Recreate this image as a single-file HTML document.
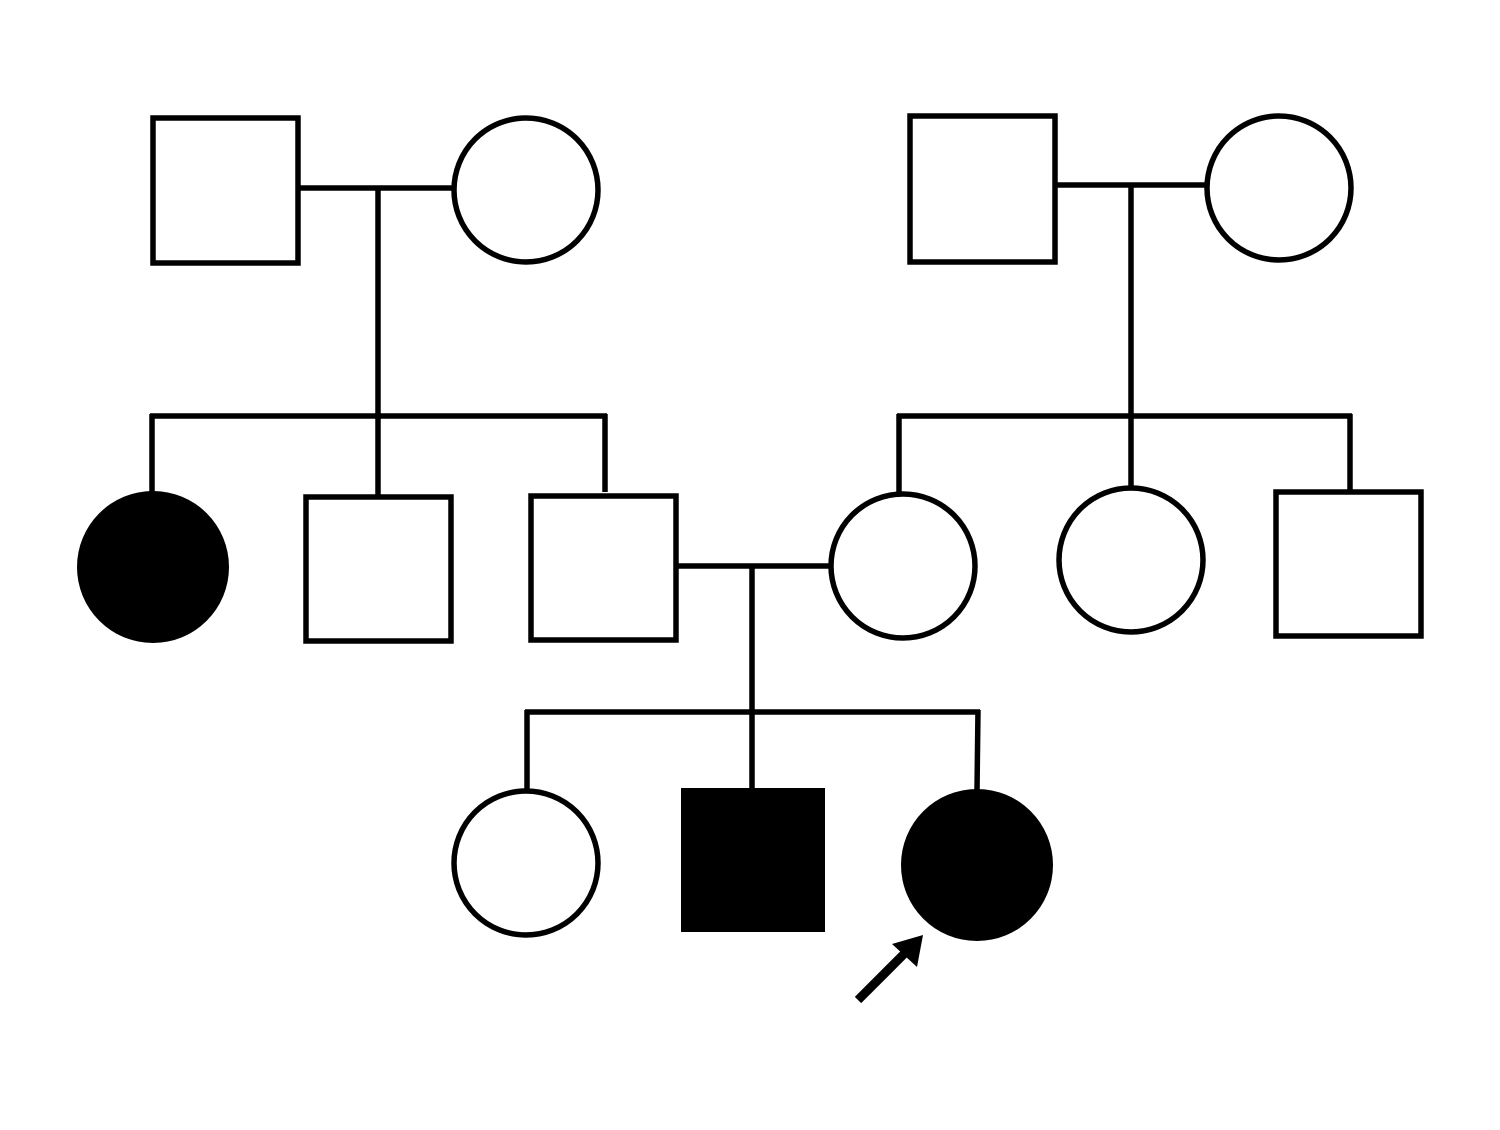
<!DOCTYPE html>
<html><head><style>body{margin:0;background:#fff}</style></head><body>
<svg width="1500" height="1125" viewBox="0 0 1500 1125" xmlns="http://www.w3.org/2000/svg">
<g stroke="#000" stroke-width="5.5" fill="none">
<rect x="153" y="118" width="145" height="145" fill="#fff"/>
<circle cx="526" cy="190" r="72" fill="#fff"/>
<line x1="298" y1="188" x2="452" y2="188"/>
<line x1="378" y1="188" x2="378" y2="416"/>
<rect x="910" y="116" width="145" height="146" fill="#fff"/>
<circle cx="1279" cy="188" r="72" fill="#fff"/>
<line x1="1055" y1="185" x2="1205" y2="185"/>
<line x1="1131" y1="185" x2="1131" y2="416"/>
<line x1="150" y1="416" x2="607" y2="416"/>
<line x1="152" y1="414" x2="152" y2="492"/>
<line x1="378" y1="416" x2="378" y2="497"/>
<line x1="605" y1="414" x2="605" y2="492"/>
<circle cx="153" cy="567" r="76" fill="#000" stroke="none"/>
<rect x="306" y="497" width="145" height="144" fill="#fff"/>
<rect x="531" y="496" width="145" height="144" fill="#fff"/>
<line x1="897" y1="416" x2="1352" y2="416"/>
<line x1="899" y1="414" x2="899" y2="492"/>
<line x1="1131" y1="416" x2="1131" y2="488"/>
<line x1="1350" y1="414" x2="1350" y2="492"/>
<circle cx="903" cy="566" r="72" fill="#fff"/>
<circle cx="1131" cy="560" r="72" fill="#fff"/>
<rect x="1276" y="492" width="145" height="144" fill="#fff"/>
<line x1="676" y1="566" x2="830" y2="566"/>
<line x1="752" y1="566" x2="752" y2="712"/>
<line x1="525" y1="712" x2="980" y2="712"/>
<line x1="527" y1="710" x2="527" y2="790"/>
<line x1="752" y1="712" x2="752" y2="789"/>
<line x1="978" y1="710" x2="977" y2="790"/>
<circle cx="526" cy="863" r="72" fill="#fff"/>
<rect x="681" y="788" width="144" height="144" fill="#000" stroke="none"/>
<circle cx="977" cy="865" r="76" fill="#000" stroke="none"/>
<line x1="858" y1="1000" x2="906" y2="952" stroke-width="9"/>
</g>
<polygon points="923,935 892,944 917,967" fill="#000"/>
</svg>
</body></html>
